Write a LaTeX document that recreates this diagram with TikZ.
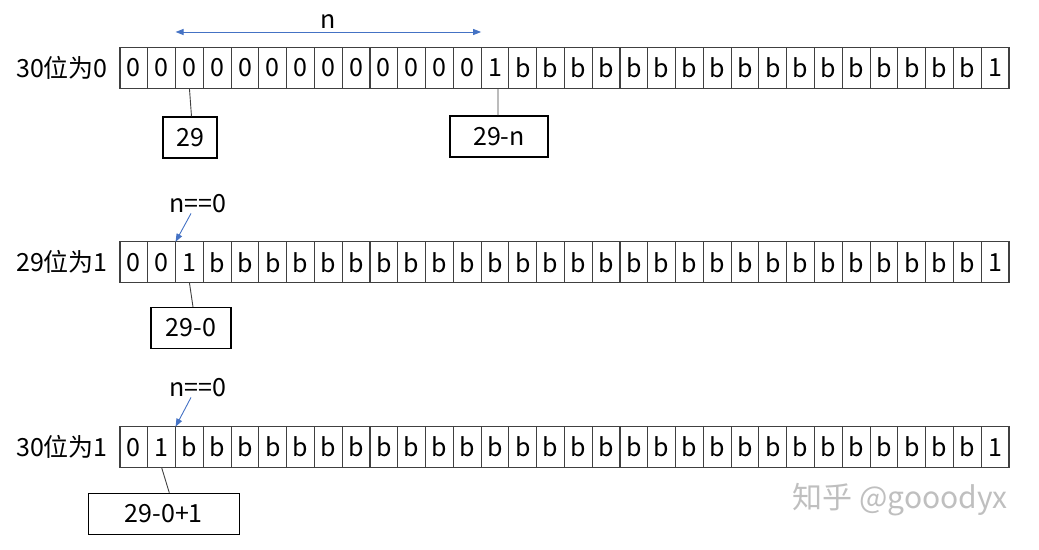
\documentclass[tikz,border=0pt]{standalone}
\usepackage{fontspec}
\setmainfont{Noto Sans CJK SC}
\usetikzlibrary{positioning,arrows.meta,calc}
\definecolor{arrowblue}{HTML}{4472C4}
\definecolor{cellgray}{HTML}{404040}
\tikzset{
  cell/.style={minimum width=27.78bp, minimum height=41bp, inner sep=0pt, outer sep=0pt},
  gridline/.style={draw=cellgray, line width=1.1bp},
  numbox/.style={draw=black, line width=1.1bp, minimum height=41bp, inner sep=0pt},
  rowlabel/.style={inner sep=0pt},
  pointer/.style={draw=cellgray, line width=0.9bp},
  blue arrow/.style={draw=arrowblue, line width=0.9bp, -{Triangle[length=8bp,width=6bp]}},
  span arrow/.style={draw=arrowblue, line width=0.9bp, {Triangle[length=8bp,width=6bp]}-{Triangle[length=8bp,width=6bp]}}
}
\begin{document}
\begin{tikzpicture}[x=1bp, y=1bp, font=\fontsize{25bp}{30bp}\selectfont]
\useasboundingbox (0,0) rectangle (1039,-550);
\foreach \t [count=\i] in {0,0,0,0,0,0,0,0,0,0,0,0,0,1,
    b,b,b,b,b,b,b,b,b,b,b,b,b,b,b,b,b,1}
  \node[cell] (a\i) at ({120+(\i-0.5)*27.78},-68) {\t};
\draw[gridline] (a1.north west) rectangle (a32.south east);
\foreach \i in {2,...,32}
  \draw[gridline] (a\i.north west) -- (a\i.south west);
\node[rowlabel, left=12bp of a1] (l1) {30位为0};
\coordinate[above=15.5bp of a3.north west] (nl);
\coordinate[above=15.5bp of a14.north west] (nr);
\draw[span arrow] (nl) -- (nr);
\node[rowlabel, above=3bp] (nlab) at ($(nl)!.5!(nr)$) {n};
\node[numbox, minimum width=54bp] (p1) at (190,-137.5) {29};
\node[numbox, minimum width=98bp] (p2) at (499,-136.5) {29-n};
\draw[pointer] (a3.south) -- ([xshift=1.5bp]p1.north);
\draw[pointer] ([xshift=3bp]a14.south) -- ([xshift=-1bp]p2.north);
\foreach \t [count=\i] in {0,0,1,
    b,b,b,b,b,b,b,
    b,b,b,b,b,b,b,
    b,b,b,b,b,b,b,
    b,b,b,b,b,b,b,
    1}
  \node[cell] (b\i) at ({120+(\i-0.5)*27.78},-262.3) {\t};
\draw[gridline] (b1.north west) rectangle (b32.south east);
\foreach \i in {2,...,32}
  \draw[gridline] (b\i.north west) -- (b\i.south west);
\node[rowlabel, left=12bp of b1] (l2) {29位为1};
\node[rowlabel] (m2) at (198,-204) {n==0};
\draw[blue arrow] ([xshift=-7bp]m2.south) -- (b3.north west);
\node[numbox, minimum width=80bp] (q1) at (191,-328) {29-0};
\draw[pointer] (b3.south) -- ([xshift=2bp]q1.north);
\foreach \t [count=\i] in {0,1,
    b,b,b,b,b,b,b,
    b,b,b,b,b,b,b,
    b,b,b,b,b,b,b,
    b,b,b,b,b,b,b,
    b,1}
  \node[cell] (c\i) at ({120+(\i-0.5)*27.78},-447.2) {\t};
\draw[gridline] (c1.north west) rectangle (c32.south east);
\foreach \i in {2,...,32}
  \draw[gridline] (c\i.north west) -- (c\i.south west);
\node[rowlabel, left=12bp of c1] (l3) {30位为1};
\node[rowlabel] (m3) at (198,-388) {n==0};
\draw[blue arrow] ([xshift=-7bp]m3.south) -- (c3.north west);
\node[numbox, minimum width=151bp] (r1) at (163.8,-513.8) {29-0+1};
\draw[pointer] (c2.south) -- ([xshift=5.5bp]r1.north);
\node[text=black!25, font=\fontsize{30bp}{36bp}\selectfont] (wm) at (900,-500) {知乎 @gooodyx};
\end{tikzpicture}
\end{document}
